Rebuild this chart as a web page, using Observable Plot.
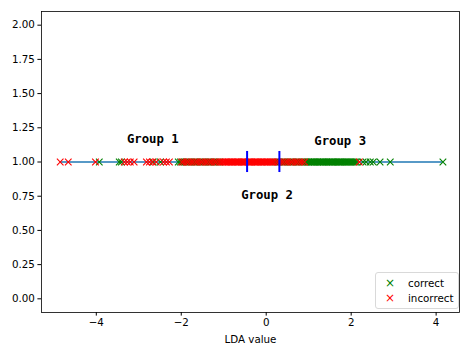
<!DOCTYPE html>
<html>
<head>
<meta charset="utf-8">
<script src="https://cdn.jsdelivr.net/npm/d3@7"></script>
<script src="https://cdn.jsdelivr.net/npm/@observablehq/plot@0.6"></script>
<style>
  body { margin: 0; background: #fff; }
  #wrap { position: relative; width: 474px; height: 355px; font-family: "DejaVu Sans", sans-serif; }
  #legend { position: absolute; left: 375px; top: 272px; width: 82px; height: 35px; border: 1px solid #d9d9d9; border-radius: 3px; background: rgba(255,255,255,0.8); font-size: 10.3px; color: #000; }
  #legend .row { position: absolute; left: 0; height: 14px; line-height: 14px; }
  #legend .mk { position: absolute; left: 8px; width: 12px; text-align: center; font-size: 12px; }
  #legend .lb { position: absolute; left: 32px; white-space: nowrap; }
</style>
</head>
<body>
<div id="wrap"></div>
<script>
// LDA values of correctly classified samples
const correct = [
  -3.93, -3.46, -3.41, -2.66, -2.49, -2.07, -2.02,
  -1.97, -1.91, -1.86, -1.8, -1.75, -1.69, -1.64, -1.58, -1.53, -1.47, -1.42, -1.36, -1.31,
  -1.25, -1.2, -1.14, -1.09,
  0.21, 0.27, 0.32, 0.38, 0.43, 0.49, 0.54, 0.6, 0.65, 0.71, 0.76, 0.82, 0.87, 0.93,
  0.96, 0.99, 1.01, 1.04, 1.06, 1.09, 1.12, 1.14, 1.17, 1.2, 1.22, 1.25, 1.27, 1.3, 1.33,
  1.35, 1.38, 1.41, 1.43, 1.46, 1.48, 1.51, 1.54, 1.56, 1.59, 1.62, 1.64, 1.67, 1.7, 1.72,
  1.75, 1.78, 1.8, 1.83, 1.86, 1.89, 1.92, 1.95, 1.98, 2.01, 2.04, 2.07, 2.1, 2.13,
  2.28, 2.35, 2.45, 2.52, 2.68, 2.92, 4.16
];
// LDA values of incorrectly classified samples
const incorrect = [
  -4.85, -4.66, -4.02, -3.34, -3.27, -3.2, -3.11, -2.82, -2.75, -2.68, -2.59, -2.42, -2.35, -2.28,
  -1.99, -1.94, -1.88, -1.83, -1.77, -1.72, -1.66, -1.61, -1.55, -1.5, -1.44, -1.39, -1.33,
  -1.28, -1.22, -1.17, -1.11, -1.06,
  -1.02, -0.99, -0.96, -0.93, -0.9, -0.88, -0.85, -0.82, -0.79, -0.76, -0.73, -0.71, -0.68, -0.65,
  -0.62, -0.59, -0.56, -0.54, -0.51, -0.48, -0.45, -0.42, -0.39, -0.37, -0.34, -0.31, -0.28, -0.25,
  -0.22, -0.2, -0.17, -0.14, -0.11, -0.08, -0.05, -0.03, 0.0, 0.03, 0.06, 0.09, 0.12, 0.15,
  0.18, 0.24, 0.29, 0.35, 0.4, 0.46, 0.51, 0.57, 0.62, 0.68, 0.73, 0.79, 0.84, 0.9,
  2.19
];
// group boundaries (blue ticks)
const boundaries = [-0.45, 0.31];
// group labels
const groupNames = ["Group 1", "Group 2", "Group 3"];
const groupX = [-2.67, 0.02, 1.74];
const groupY = [1.168, 0.76, 1.153];
const yTicks = [0, 0.25, 0.5, 0.75, 1, 1.25, 1.5, 1.75, 2];
const xTicks = [-4, -2, 0, 2, 4];

const all = correct.concat(incorrect);
const xmin = d3.min(all), xmax = d3.max(all);
const labels = groupNames.map((name, i) => ({name, x: groupX[i], y: groupY[i]}));
const cross = { x: d => d, y: () => 1, symbol: "times", r: 3.1, strokeWidth: 1.1 };

const chart = Plot.plot({
  width: 474,
  height: 355,
  marginLeft: 41,
  marginRight: 15,
  marginTop: 11,
  marginBottom: 43,
  style: { fontFamily: "DejaVu Sans, sans-serif", fontSize: "10.3px", color: "#000", background: "#fff" },
  x: { domain: [-5.29, 4.55], ticks: xTicks, tickSize: 3.6, tickPadding: 3, label: "LDA value", labelAnchor: "center", labelArrow: "none", labelOffset: 30 },
  y: { domain: [-0.1, 2.1], ticks: yTicks, tickFormat: d3.format(".2f"), tickSize: 3.6, tickPadding: 3, label: null },
  marks: [
    Plot.ruleY([1], { x1: () => xmin, x2: () => xmax, stroke: "#1f77b4", strokeWidth: 1.5 }),
    Plot.dot(correct, { ...cross, stroke: "#008000" }),
    Plot.dot(incorrect, { ...cross, stroke: "#ff0000" }),
    Plot.ruleX(boundaries, { x: d => d, y1: () => 0.923, y2: () => 1.077, stroke: "#0000ff", strokeWidth: 2 }),
    Plot.text(labels, { x: "x", y: "y", text: "name", fontFamily: "DejaVu Sans Mono, monospace", fontWeight: "bold", fontSize: 12.3, fill: "#000" }),
    Plot.frame({ stroke: "#000", strokeWidth: 0.8 })
  ]
});

const wrap = document.getElementById("wrap");
wrap.appendChild(chart);
const legend = document.createElement("div");
legend.id = "legend";
legend.innerHTML =
  '<div class="row" style="top:3px"><span class="mk" style="color:#008000">×</span><span class="lb">correct</span></div>' +
  '<div class="row" style="top:18px"><span class="mk" style="color:#ff0000">×</span><span class="lb">incorrect</span></div>';
wrap.appendChild(legend);
</script>
</body>
</html>
